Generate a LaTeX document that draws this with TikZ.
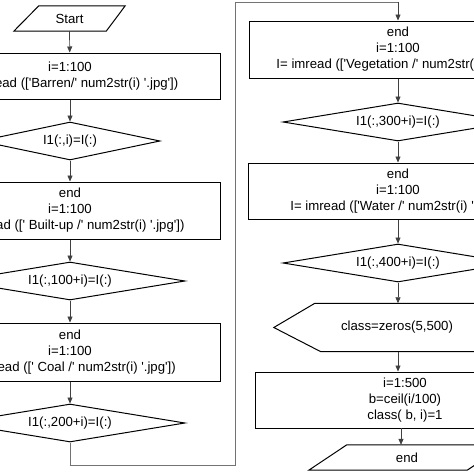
\documentclass[tikz,border=0pt]{standalone}
\usepackage{fontspec}
\setmainfont{Liberation Sans}
\usetikzlibrary{shapes.geometric,arrows.meta}
\newcommand{\sq}{\textquotesingle}
\begin{document}
\begin{tikzpicture}[x=1pt,y=-1pt,
  txt/.style={font=\fontsize{13.2}{16}\selectfont, align=center, inner sep=0pt},
  box/.style={txt, draw, line width=1pt, rectangle},
  dia/.style={txt, draw, line width=1pt, diamond, aspect=6, minimum height=38pt},
  ghost/.style={txt, rectangle},
  shp/.style={draw, line width=1pt, line join=miter},
  arr/.style={draw, black!75, line width=0.7pt, -{Triangle[length=6pt,width=5pt]}},
  loop/.style={draw, black!55, line width=0.8pt}]
\clip (0,0) rectangle (474,474);
\fill[white] (0,0) rectangle (474,474);
% left column
\node[ghost, minimum width=111pt, minimum height=25pt] (start) at (69.5,18.5) {Start};
\draw[shp] (start.south west) -- ([xshift=25pt]start.north west) -- (start.north east) -- ([xshift=-19pt]start.south east) -- cycle;
\node[box, minimum width=300pt, minimum height=46pt] (b1) at (70,76) {i=1:100\\I= imread ([\sq Barren/\sq{} num2str(i) \sq.jpg\sq])};
\node[dia, minimum width=180pt] (d1) at (70,141) {I1(:,i)=I(:)};
\node[box, minimum width=300pt, minimum height=57pt] (b2) at (70,210.5) {end\\i=1:100\\I= imread ([\sq{} Built-up /\sq{} num2str(i) \sq.jpg\sq])};
\node[dia, minimum width=230pt] (d2) at (70,281) {I1(:,100+i)=I(:)};
\node[box, minimum width=300pt, minimum height=58pt] (b3) at (70,352) {end\\i=1:100\\I= imread ([\sq{} Coal /\sq{} num2str(i) \sq.jpg\sq])};
\node[dia, minimum width=230pt] (d3) at (70,423) {I1(:,200+i)=I(:)};
% right column
\node[box, minimum width=298pt, minimum height=57pt] (b4) at (398,49.5) {end\\i=1:100\\I= imread ([\sq Vegetation /\sq{} num2str(i) \sq.jpg\sq])};
\node[dia, minimum width=230pt] (d4) at (398,122) {I1(:,300+i)=I(:)};
\node[box, minimum width=300pt, minimum height=56pt] (b5) at (398,191) {end\\i=1:100\\I= imread ([\sq Water /\sq{} num2str(i) \sq.jpg\sq])};
\node[dia, minimum width=230pt] (d5) at (398,263) {I1(:,400+i)=I(:)};
\node[ghost, minimum width=246pt, minimum height=48pt] (prep) at (397,327.5) {class=zeros(5,500)};
\draw[shp] (prep.west) -- ([xshift=41pt]prep.north west) -- ([xshift=-41pt]prep.north east) -- (prep.east) -- ([xshift=-41pt]prep.south east) -- ([xshift=47pt]prep.south west) -- cycle;
\node[box, minimum width=300pt, minimum height=56pt] (b6) at (405,400) {i=1:500\\b=ceil(i/100)\\class( b, i)=1};
\node[ghost, minimum width=196pt, minimum height=25pt] (fin) at (407,457.5) {end};
\draw[shp] (fin.south west) -- ([xshift=38pt]fin.north west) -- (fin.north east) -- ([xshift=-38pt]fin.south east) -- cycle;
% connectors
\draw[arr] (start.south) -- (b1);
\draw[arr] (b1) -- (d1);
\draw[arr] (d1) -- (b2);
\draw[arr] (b2) -- (d2);
\draw[arr] (d2) -- (b3);
\draw[arr] (b3) -- (d3);
\coordinate (c1) at (235,465);
\coordinate (c2) at (235,2);
\draw[loop] (d3.south) |- (c1) -- (c2) -- (c2 -| b4.north);
\draw[arr] (c2 -| b4.north) -- (b4.north);
\draw[arr] (b4) -- (d4);
\draw[arr] (d4) -- (b5);
\draw[arr] (b5) -- (d5);
\draw[arr] (d5.south) -- (d5.south |- prep.north);
\coordinate (p1) at (398,351.5);
\draw[arr] (p1) -- (p1 |- b6.north);
\coordinate (p2) at (401,428);
\draw[arr] (p2) -- (p2 |- fin.north);
\end{tikzpicture}
\end{document}
